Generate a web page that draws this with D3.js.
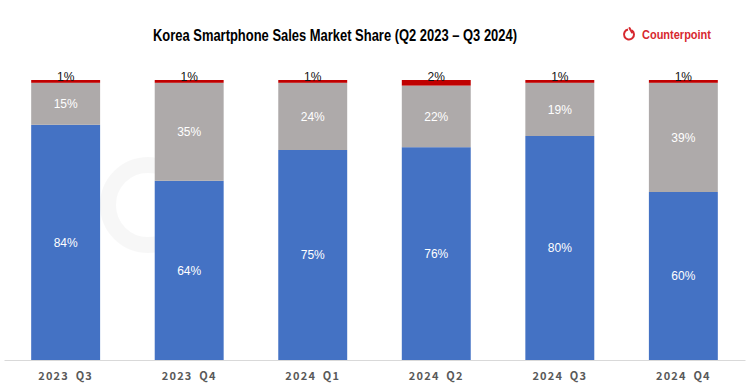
<!DOCTYPE html>
<html>
<head>
<meta charset="utf-8">
<script src="https://cdn.jsdelivr.net/npm/d3@7"></script>
<style>
  body { margin: 0; background: #fff; }
  svg { display: block; }
</style>
</head>
<body>
<div id="chart"></div>
<script>
// Data
const quarters = ["2023 Q3", "2023 Q4", "2024 Q1", "2024 Q2", "2024 Q3", "2024 Q4"];
const samsung = [84, 64, 75, 76, 80, 60];
const apple = [15, 35, 24, 22, 19, 39];
const others = [1, 1, 1, 2, 1, 1];
const seriesKeys = ["samsung", "apple", "others"];
const seriesColors = ["#4472C4", "#AEAAAA", "#C00000"];

// Dimensions
const W = 755, H = 389;
const plotLeft = 4, plotRight = 745, plotTop = 80, plotBottom = 360;

const svg = d3.select("#chart").append("svg")
    .attr("width", W)
    .attr("height", H);

// Faint watermark logo ring behind the bars
svg.append("circle")
    .attr("cx", 148).attr("cy", 205).attr("r", 40)
    .attr("fill", "none")
    .attr("stroke", "#000")
    .attr("stroke-opacity", 0.03)
    .attr("stroke-width", 16);

// Build table
const table = quarters.map((q, i) => ({
    quarter: q, samsung: samsung[i], apple: apple[i], others: others[i]
}));
const stacked = d3.stack().keys(seriesKeys)(table);

// Scales
const x = d3.scaleBand()
    .domain(quarters)
    .range([plotLeft, plotRight])
    .paddingInner(0.442)
    .paddingOuter(0.22);

const y = d3.scaleLinear()
    .domain([0, 100])
    .range([plotBottom, plotTop]);

// Bars
const layers = svg.append("g").selectAll("g")
    .data(stacked)
    .join("g")
    .attr("fill", (d, i) => seriesColors[i]);

layers.selectAll("rect")
    .data(d => d)
    .join("rect")
    .attr("x", d => x(d.data.quarter))
    .attr("y", d => y(d[1]))
    .attr("width", x.bandwidth())
    .attr("height", d => y(d[0]) - y(d[1]));

// Segment labels (white inside blue and gray)
const labelFont = "Liberation Sans, Arial, sans-serif";
stacked.slice(0, 2).forEach(layer => {
    svg.append("g").selectAll("text")
        .data(layer)
        .join("text")
        .attr("x", d => x(d.data.quarter) + x.bandwidth() / 2)
        .attr("y", d => (y(d[0]) + y(d[1])) / 2)
        .attr("dy", "0.35em")
        .attr("text-anchor", "middle")
        .attr("fill", "#fff")
        .style("font-family", labelFont)
        .style("font-size", "12px")
        .text(d => (d[1] - d[0]) + "%");
});

// Others labels sitting on the red cap
svg.append("g").selectAll("text")
    .data(stacked[2])
    .join("text")
    .attr("x", d => x(d.data.quarter) + x.bandwidth() / 2)
    .attr("y", d => y(d[1]) + 1)
    .attr("text-anchor", "middle")
    .attr("fill", "#111")
    .style("font-family", labelFont)
    .style("font-size", "12px")
    .text(d => (d[1] - d[0]) + "%");

// X axis
const xAxis = svg.append("g")
    .attr("transform", "translate(0," + plotBottom + ")")
    .call(d3.axisBottom(x).tickSize(0).tickPadding(12).tickSizeOuter(0));
xAxis.select(".domain").attr("stroke", "#D9D9D9").attr("stroke-width", 1);
xAxis.selectAll("text")
    .attr("fill", "#595959")
    .style("font-family", "Noto Sans CJK KR, sans-serif")
    .style("font-size", "11px")
    .style("font-weight", "bold")
    .style("letter-spacing", "1.2px")
    .style("word-spacing", "3px");

// Title (condensed bold to fit the original width)
svg.append("text")
    .attr("x", 153)
    .attr("y", 40.5)
    .attr("textLength", 364)
    .attr("lengthAdjust", "spacingAndGlyphs")
    .attr("fill", "#000")
    .style("font-family", "Liberation Sans, Arial, sans-serif")
    .style("font-size", "16.5px")
    .style("font-weight", "bold")
    .text("Korea Smartphone Sales Market Share (Q2 2023 \u2013 Q3 2024)");

// Counterpoint logo
const logo = svg.append("g").attr("transform", "translate(629,34.5)");
logo.append("path")
    .attr("d", d3.arc().innerRadius(4).outerRadius(6)
        .startAngle(0.6).endAngle(2 * Math.PI - 0.2)())
    .attr("fill", "#D7282F");
logo.append("line")
    .attr("x1", 0.5).attr("y1", -6.5).attr("x2", 3).attr("y2", -2)
    .attr("stroke", "#D7282F").attr("stroke-width", 2)
    .attr("stroke-linecap", "round");
logo.append("text")
    .attr("x", 13)
    .attr("y", 4)
    .attr("textLength", 69)
    .attr("lengthAdjust", "spacingAndGlyphs")
    .attr("fill", "#D7282F")
    .style("font-family", "Liberation Sans, Arial, sans-serif")
    .style("font-size", "12px")
    .style("font-weight", "bold")
    .text("Counterpoint");
</script>
</body>
</html>
